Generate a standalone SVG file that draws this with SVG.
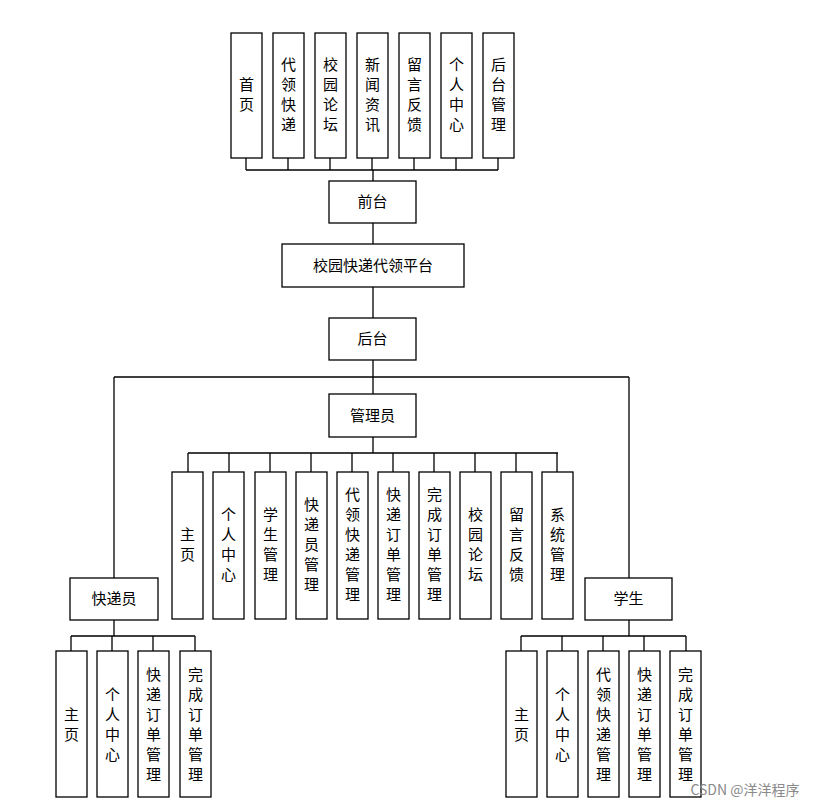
<svg xmlns="http://www.w3.org/2000/svg" width="836" height="807" viewBox="0 0 836 807">
<style>
rect{fill:#fff;stroke:#000;stroke-width:1.3}
text{font-family:"Noto Sans CJK SC","Liberation Sans",sans-serif;font-size:15px;fill:#000;text-anchor:middle}
#connectors path{fill:none;stroke:#000;stroke-width:1.3}
</style>
<rect x="0" y="0" width="836" height="807" style="stroke:none"/>
<g id="connectors">
<path d="M246 158V170M288 158V170M330 158V170M372 158V170M414 158V170M456 158V170M498 158V170M246 170H498M373 170V181"/>
<path d="M373 223V244M373 287V318M373 360V394M114 377H629M114 377V578M629 377V578"/>
<path d="M373 437V453M188 453H558M188 453V472M229 453V472M270 453V472M311 453V472M352 453V472M393 453V472M434 453V472M475 453V472M516 453V472M557 453V472"/>
<path d="M114 620V636M71 636H195M71 636V651M112 636V651M153 636V651M195 636V651"/>
<path d="M629 620V636M521 636H686M521 636V651M562 636V651M603 636V651M644 636V651M686 636V651"/>
</g>
<g id="top">
<rect x="231" y="33" width="31" height="125"/><text x="246.5"><tspan x="246.5" y="90">首</tspan><tspan x="246.5" y="110">页</tspan></text>
<rect x="273" y="33" width="31" height="125"/><text><tspan x="288.5" y="70">代</tspan><tspan x="288.5" y="90">领</tspan><tspan x="288.5" y="110">快</tspan><tspan x="288.5" y="130">递</tspan></text>
<rect x="315" y="33" width="31" height="125"/><text><tspan x="330.5" y="70">校</tspan><tspan x="330.5" y="90">园</tspan><tspan x="330.5" y="110">论</tspan><tspan x="330.5" y="130">坛</tspan></text>
<rect x="357" y="33" width="31" height="125"/><text><tspan x="372.5" y="70">新</tspan><tspan x="372.5" y="90">闻</tspan><tspan x="372.5" y="110">资</tspan><tspan x="372.5" y="130">讯</tspan></text>
<rect x="399" y="33" width="31" height="125"/><text><tspan x="414.5" y="70">留</tspan><tspan x="414.5" y="90">言</tspan><tspan x="414.5" y="110">反</tspan><tspan x="414.5" y="130">馈</tspan></text>
<rect x="441" y="33" width="31" height="125"/><text><tspan x="456.5" y="70">个</tspan><tspan x="456.5" y="90">人</tspan><tspan x="456.5" y="110">中</tspan><tspan x="456.5" y="130">心</tspan></text>
<rect x="483" y="33" width="31" height="125"/><text><tspan x="498.5" y="70">后</tspan><tspan x="498.5" y="90">台</tspan><tspan x="498.5" y="110">管</tspan><tspan x="498.5" y="130">理</tspan></text>
</g>
<g id="qiantai"><rect x="329" y="181" width="87" height="42"/><text x="372.5" y="207">前台</text></g>
<g id="platform"><rect x="282" y="244" width="182" height="43"/><text x="373" y="271">校园快递代领平台</text></g>
<g id="houtai"><rect x="329" y="318" width="87" height="42"/><text x="372.5" y="344">后台</text></g>
<g id="admin"><rect x="329" y="394" width="87" height="43"/><text x="372.5" y="421">管理员</text></g>
<g id="courier"><rect x="70" y="578" width="88" height="42"/><text x="114" y="604">快递员</text></g>
<g id="student"><rect x="585" y="578" width="87" height="42"/><text x="628.5" y="604">学生</text></g>
<g id="admin-children">
<rect x="172" y="472" width="31" height="147"/><text><tspan x="187.5" y="540">主</tspan><tspan x="187.5" y="560">页</tspan></text>
<rect x="213" y="472" width="31" height="147"/><text><tspan x="228.5" y="520">个</tspan><tspan x="228.5" y="540">人</tspan><tspan x="228.5" y="560">中</tspan><tspan x="228.5" y="580">心</tspan></text>
<rect x="255" y="472" width="31" height="147"/><text><tspan x="270.5" y="520">学</tspan><tspan x="270.5" y="540">生</tspan><tspan x="270.5" y="560">管</tspan><tspan x="270.5" y="580">理</tspan></text>
<rect x="296" y="472" width="31" height="147"/><text><tspan x="311.5" y="510">快</tspan><tspan x="311.5" y="530">递</tspan><tspan x="311.5" y="550">员</tspan><tspan x="311.5" y="570">管</tspan><tspan x="311.5" y="590">理</tspan></text>
<rect x="337" y="472" width="31" height="147"/><text><tspan x="352.5" y="500">代</tspan><tspan x="352.5" y="520">领</tspan><tspan x="352.5" y="540">快</tspan><tspan x="352.5" y="560">递</tspan><tspan x="352.5" y="580">管</tspan><tspan x="352.5" y="600">理</tspan></text>
<rect x="378" y="472" width="31" height="147"/><text><tspan x="393.5" y="500">快</tspan><tspan x="393.5" y="520">递</tspan><tspan x="393.5" y="540">订</tspan><tspan x="393.5" y="560">单</tspan><tspan x="393.5" y="580">管</tspan><tspan x="393.5" y="600">理</tspan></text>
<rect x="419" y="472" width="31" height="147"/><text><tspan x="434.5" y="500">完</tspan><tspan x="434.5" y="520">成</tspan><tspan x="434.5" y="540">订</tspan><tspan x="434.5" y="560">单</tspan><tspan x="434.5" y="580">管</tspan><tspan x="434.5" y="600">理</tspan></text>
<rect x="460" y="472" width="31" height="147"/><text><tspan x="475.5" y="520">校</tspan><tspan x="475.5" y="540">园</tspan><tspan x="475.5" y="560">论</tspan><tspan x="475.5" y="580">坛</tspan></text>
<rect x="501" y="472" width="31" height="147"/><text><tspan x="516.5" y="520">留</tspan><tspan x="516.5" y="540">言</tspan><tspan x="516.5" y="560">反</tspan><tspan x="516.5" y="580">馈</tspan></text>
<rect x="542" y="472" width="31" height="147"/><text><tspan x="557.5" y="520">系</tspan><tspan x="557.5" y="540">统</tspan><tspan x="557.5" y="560">管</tspan><tspan x="557.5" y="580">理</tspan></text>
</g>
<g id="courier-children">
<rect x="56" y="651" width="31" height="146"/><text><tspan x="71.5" y="720">主</tspan><tspan x="71.5" y="740">页</tspan></text>
<rect x="97" y="651" width="31" height="146"/><text><tspan x="112.5" y="700">个</tspan><tspan x="112.5" y="720">人</tspan><tspan x="112.5" y="740">中</tspan><tspan x="112.5" y="760">心</tspan></text>
<rect x="138" y="651" width="31" height="146"/><text><tspan x="153.5" y="680">快</tspan><tspan x="153.5" y="700">递</tspan><tspan x="153.5" y="720">订</tspan><tspan x="153.5" y="740">单</tspan><tspan x="153.5" y="760">管</tspan><tspan x="153.5" y="780">理</tspan></text>
<rect x="180" y="651" width="31" height="146"/><text><tspan x="195.5" y="680">完</tspan><tspan x="195.5" y="700">成</tspan><tspan x="195.5" y="720">订</tspan><tspan x="195.5" y="740">单</tspan><tspan x="195.5" y="760">管</tspan><tspan x="195.5" y="780">理</tspan></text>
</g>
<g id="student-children">
<rect x="506" y="651" width="31" height="146"/><text><tspan x="521.5" y="720">主</tspan><tspan x="521.5" y="740">页</tspan></text>
<rect x="547" y="651" width="31" height="146"/><text><tspan x="562.5" y="700">个</tspan><tspan x="562.5" y="720">人</tspan><tspan x="562.5" y="740">中</tspan><tspan x="562.5" y="760">心</tspan></text>
<rect x="588" y="651" width="31" height="146"/><text><tspan x="603.5" y="680">代</tspan><tspan x="603.5" y="700">领</tspan><tspan x="603.5" y="720">快</tspan><tspan x="603.5" y="740">递</tspan><tspan x="603.5" y="760">管</tspan><tspan x="603.5" y="780">理</tspan></text>
<rect x="629" y="651" width="31" height="146"/><text><tspan x="644.5" y="680">快</tspan><tspan x="644.5" y="700">递</tspan><tspan x="644.5" y="720">订</tspan><tspan x="644.5" y="740">单</tspan><tspan x="644.5" y="760">管</tspan><tspan x="644.5" y="780">理</tspan></text>
<rect x="670" y="651" width="31" height="146"/><text><tspan x="685.5" y="680">完</tspan><tspan x="685.5" y="700">成</tspan><tspan x="685.5" y="720">订</tspan><tspan x="685.5" y="740">单</tspan><tspan x="685.5" y="760">管</tspan><tspan x="685.5" y="780">理</tspan></text>
</g>
<text x="745" y="795" style="font-size:14px;fill:#8a8a8a">CSDN @洋洋程序</text>
</svg>
